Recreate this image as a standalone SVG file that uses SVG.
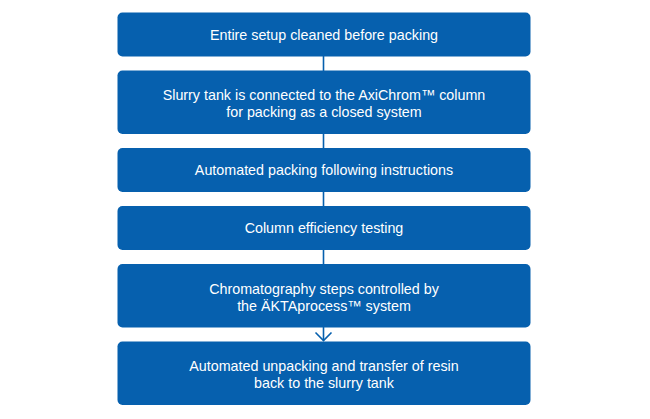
<svg xmlns="http://www.w3.org/2000/svg" width="650" height="419" viewBox="0 0 650 419">
<defs>
<style>
.box{fill:#0660ae;}
.t{fill:#ffffff;font-family:"Liberation Sans","Open Sans",sans-serif;font-size:14.3px;text-anchor:middle;}
.c{stroke:#0660ae;stroke-width:1.6;fill:none;}
</style>
</defs>
<rect width="650" height="419" fill="#ffffff"/>
<g id="connectors">
<line class="c" x1="323.5" y1="56" x2="323.5" y2="71"/>
<line class="c" x1="323.5" y1="133" x2="323.5" y2="148"/>
<line class="c" x1="323.5" y1="191" x2="323.5" y2="206"/>
<line class="c" x1="323.5" y1="249" x2="323.5" y2="264"/>
<line class="c" x1="323.5" y1="327" x2="323.5" y2="340.5"/>
<polyline class="c" points="315.5,332.5 323.5,340.5 331.5,332.5"/>
</g>
<g id="n1"><rect class="box" x="117.5" y="12.5" width="413" height="44" rx="5"/>
<text class="t" x="324" y="39.5">Entire setup cleaned before packing</text></g>
<g id="n2"><rect class="box" x="117.5" y="70.5" width="413" height="63.5" rx="5"/>
<text class="t" x="324" y="100">Slurry tank is connected to the AxiChrom™ column</text>
<text class="t" x="324" y="117">for packing as a closed system</text></g>
<g id="n3"><rect class="box" x="117.5" y="148" width="413" height="44" rx="5"/>
<text class="t" x="324" y="175">Automated packing following instructions</text></g>
<g id="n4"><rect class="box" x="117.5" y="206" width="413" height="44" rx="5"/>
<text class="t" x="324" y="233">Column efficiency testing</text></g>
<g id="n5"><rect class="box" x="117.5" y="264" width="413" height="63.5" rx="5"/>
<text class="t" x="324" y="293.5">Chromatography steps controlled by</text>
<text class="t" x="324" y="310.5">the ÄKTAprocess™ system</text></g>
<g id="n6"><rect class="box" x="117.5" y="341.5" width="413" height="63.5" rx="5"/>
<text class="t" x="324" y="371">Automated unpacking and transfer of resin</text>
<text class="t" x="324" y="388">back to the slurry tank</text></g>
</svg>
